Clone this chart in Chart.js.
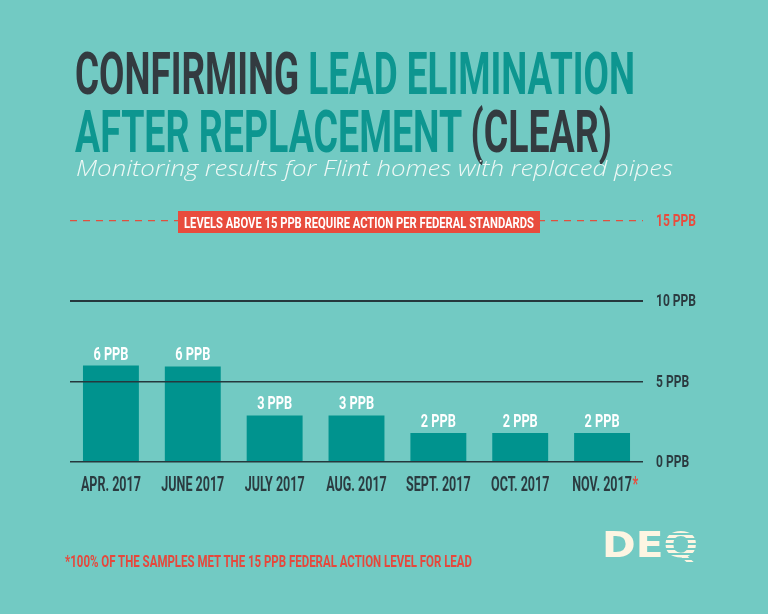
<!DOCTYPE html>
<html>
<head>
<meta charset="utf-8">
<script src="https://cdn.jsdelivr.net/npm/chart.js@4/dist/chart.umd.min.js"></script>
<style>
  html, body { margin: 0; padding: 0; }
  body { width: 768px; height: 614px; background: #72cac3; position: relative; overflow: hidden; }
  #leadChart { position: absolute; left: 0; top: 0; }
  .fit { position: absolute; white-space: nowrap; transform-origin: 0 0; line-height: 1; }
  .cond { font-family: Roboto, sans-serif; font-weight: bold; }
  .dark { color: #333b40; }
  .teal { color: #0d9690; }
  #title1, #title2 { font-size: 60px; left: 75px; }
  #title1 { top: 44px; }
  #title2 { top: 102px; }
  #subtitle { left: 76px; top: 156px; font-family: "Open Sans", sans-serif; font-style: italic; font-weight: 300; font-size: 22px; color: #eef8f5; }
  #footnote { left: 65px; top: 553px; font-size: 17px; color: #e5483c; }
  #logo { left: 602px; top: 528px; font-family: "DejaVu Sans", sans-serif; font-weight: bold; font-size: 35px; color: #fdf5e2; }
  #logo .q {
    background: repeating-linear-gradient(to bottom, #fdf5e2 0 3px, transparent 3px 5px);
    -webkit-background-clip: text; background-clip: text; color: transparent;
  }
</style>
</head>
<body>
<canvas id="leadChart" width="768" height="614"></canvas>
<div id="title1" class="fit cond" data-w="560"><span class="dark">CONFIRMING </span><span class="teal">LEAD ELIMINATION</span></div>
<div id="title2" class="fit cond" data-w="537"><span class="teal">AFTER REPLACEMENT </span><span class="dark">(CLEAR)</span></div>
<div id="subtitle" class="fit" data-w="597">Monitoring results for Flint homes with replaced pipes</div>
<div id="footnote" class="fit cond" data-w="407">*100% OF THE SAMPLES MET THE 15 PPB FEDERAL ACTION LEVEL FOR LEAD</div>
<div id="logo" class="fit" data-w="96">DE<span class="q">Q</span></div>
<script>
const months = ["APR. 2017", "JUNE 2017", "JULY 2017", "AUG. 2017", "SEPT. 2017", "OCT. 2017", "NOV. 2017"];
const leadPpb = [6.0, 5.95, 2.9, 2.9, 1.8, 1.8, 1.8];
const barLabels = ["6 PPB", "6 PPB", "3 PPB", "3 PPB", "2 PPB", "2 PPB", "2 PPB"];
const yTicks = [0, 5, 10, 15];
const actionLevel = 15;
const actionNote = "LEVELS ABOVE 15 PPB REQUIRE ACTION PER FEDERAL STANDARDS";
const footnoteMark = "*"; // marks the last month

const condFont = "Roboto, sans-serif";
const red = "#e84c3d";
const dark = "#2b3b40";

// squeeze html text blocks to the width they have in the original
document.querySelectorAll(".fit").forEach((el) => {
  const w = el.getBoundingClientRect().width;
  el.style.transform = "scaleX(" + (el.dataset.w / w) + ")";
});

function squeezeText(ctx, text, x, y, sx, align) {
  ctx.save();
  ctx.translate(x, y);
  ctx.scale(sx, 1);
  ctx.textAlign = align;
  ctx.fillText(text, 0, 0);
  ctx.restore();
}

const extraText = {
  id: "extraText",
  afterDraw(chart) {
    const ctx = chart.ctx;
    const xScale = chart.scales.x;
    const yScale = chart.scales.y;
    ctx.textBaseline = "alphabetic";
    let sx;

    // values over the bars
    ctx.font = "bold 18px " + condFont;
    sx = 35 / ctx.measureText("6 PPB").width;
    ctx.fillStyle = "#ffffff";
    chart.getDatasetMeta(0).data.forEach((bar, i) => {
      squeezeText(ctx, barLabels[i], bar.x, bar.y - 6, sx, "center");
    });

    // month labels, with the red asterisk on the last one
    ctx.font = "bold 19.5px " + condFont;
    sx = 60 / ctx.measureText(months[0]).width;
    months.forEach((m, i) => {
      const x = xScale.getPixelForValue(i);
      ctx.fillStyle = dark;
      squeezeText(ctx, m, x, 491, sx, "center");
      if (i === months.length - 1) {
        const half = ctx.measureText(m).width * sx / 2;
        ctx.fillStyle = red;
        squeezeText(ctx, footnoteMark, x + half + 0.5, 491, sx, "left");
      }
    });

    // y tick labels on the right
    ctx.font = "bold 17px " + condFont;
    sx = 40 / ctx.measureText("15 PPB").width;
    yTicks.forEach((v) => {
      ctx.fillStyle = v === actionLevel ? red : dark;
      squeezeText(ctx, v + " PPB", 656, yScale.getPixelForValue(v) + 5, sx, "left");
    });

    // action level banner on the dashed line
    const y = yScale.getPixelForValue(actionLevel);
    const boxL = 178, boxW = 362, boxH = 22;
    ctx.fillStyle = red;
    ctx.fillRect(boxL, y - boxH / 2 + 1, boxW, boxH);
    ctx.font = "bold 15.5px " + condFont;
    sx = (boxW - 12) / ctx.measureText(actionNote).width;
    ctx.fillStyle = "#ffffff";
    squeezeText(ctx, actionNote, boxL + boxW / 2, y + 6.5, sx, "center");
  }
};

new Chart(document.getElementById("leadChart"), {
  type: "bar",
  data: {
    labels: months,
    datasets: [
      {
        data: leadPpb,
        backgroundColor: "#00938e",
        barPercentage: 0.683,
        categoryPercentage: 1
      }
    ]
  },
  options: {
    responsive: false,
    animation: false,
    layout: { padding: { top: 221, left: 70, right: 0, bottom: 0 } },
    plugins: {
      legend: { display: false },
      tooltip: { enabled: false }
    },
    scales: {
      x: {
        grid: { display: false },
        border: { display: false },
        ticks: { display: false },
        afterFit: (s) => { s.height = 152; }
      },
      y: {
        position: "right",
        min: 0,
        max: 15,
        afterBuildTicks: (s) => { s.ticks = yTicks.map((v) => ({ value: v })); },
        afterFit: (s) => { s.width = 125; },
        grid: {
          z: 1,
          drawTicks: false,
          color: (c) => c.tick.value === actionLevel ? "#e0503f" : "#25383d",
          lineWidth: (c) => c.tick.value === 10 ? 2 : (c.tick.value === actionLevel ? 1.2 : 1.4)
        },
        border: {
          display: false,
          dash: (c) => (c.tick && c.tick.value === actionLevel) ? [7, 6] : []
        },
        ticks: { display: false }
      }
    }
  },
  plugins: [extraText]
});
</script>
</body>
</html>
